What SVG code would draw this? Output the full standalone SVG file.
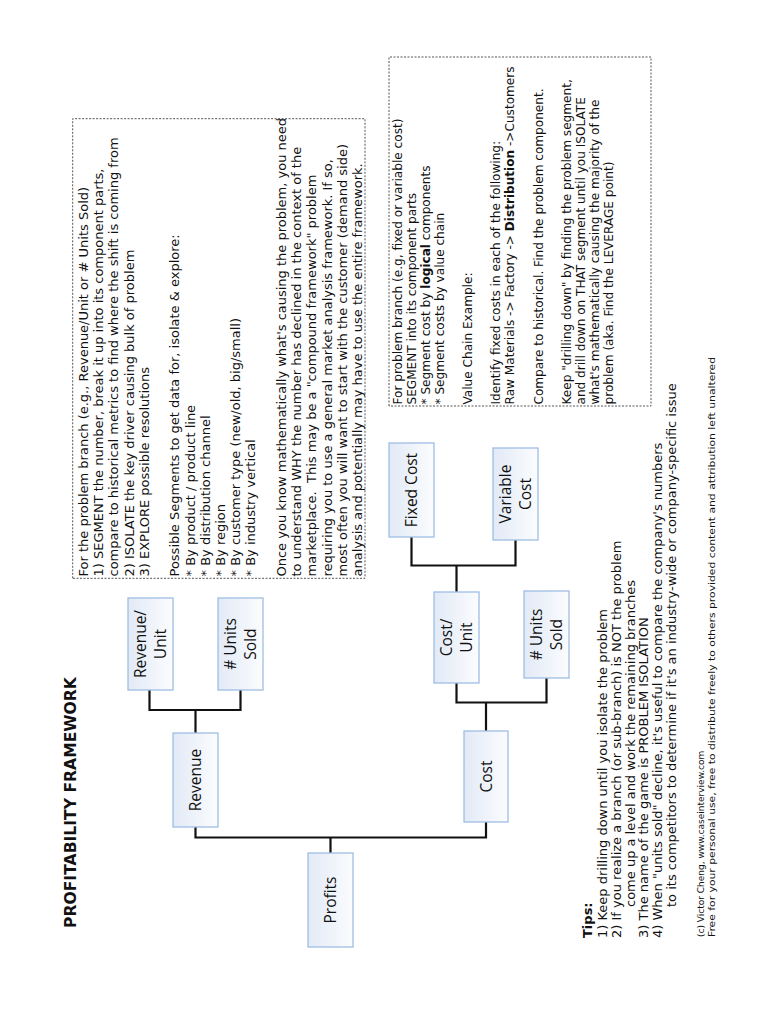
<svg xmlns="http://www.w3.org/2000/svg" width="768" height="1024" viewBox="0 0 768 1024">
<defs>
<linearGradient id="nodeFill" x1="0" y1="0" x2="0" y2="1">
<stop offset="0" stop-color="#e2eaf6"/>
<stop offset="1" stop-color="#fbfcfe"/>
</linearGradient>
<style>
.node rect{fill:url(#nodeFill);stroke:#9fbde4;stroke-width:1.3}
.nl{font-family:"Open Sans","Noto Sans",sans-serif;font-size:15.5px;fill:#111;text-anchor:middle}
.conn path{fill:none;stroke:#111;stroke-width:2.2}
.box{fill:none;stroke:#555;stroke-width:1;stroke-dasharray:2 1.5}
.bt{font-family:"DejaVu Sans",Verdana,sans-serif;font-size:13px;fill:#111}
.rt{font-family:"DejaVu Sans",Verdana,sans-serif;font-size:12.1px;fill:#111}
.cp{font-family:"DejaVu Sans",Verdana,sans-serif;font-size:9px;fill:#111}
.title{font-family:"DejaVu Sans",Verdana,sans-serif;font-size:15.6px;font-weight:bold;fill:#111}
.b{font-weight:bold}
</style>
</defs>
<rect width="768" height="1024" fill="#ffffff"/>
<g transform="translate(0,1024) rotate(-90)">
<text class="title" x="96" y="76">PROFITABILITY FRAMEWORK</text>

<g id="connectors" class="conn">
<path d="M334,149.5 H314 V240.5 H334 M314,195.5 H291"/>
<path d="M341,456.5 H321.5 V546.5 H346 M321.5,486 H293"/>
<path d="M487,411.5 H458.5 V515.5 H484 M458.5,456.5 H432"/>
<path d="M197,195.5 H186.5 V486 H202 M186.5,330.5 H171"/>
</g>

<g id="node-profits" class="node"><rect x="77" y="308" width="94" height="45"/><text class="nl" x="124" y="336">Profits</text></g>
<g id="node-revenue" class="node"><rect x="197" y="173" width="94" height="45"/><text class="nl" x="244" y="201">Revenue</text></g>
<g id="node-revenue-unit" class="node"><rect x="334" y="128" width="92" height="45"/><text class="nl" x="380" y="146">Revenue/</text><text class="nl" x="380" y="166">Unit</text></g>
<g id="node-rev-units-sold" class="node"><rect x="334" y="218" width="92" height="45"/><text class="nl" x="380" y="236"># Units</text><text class="nl" x="380" y="256">Sold</text></g>
<g id="node-cost" class="node"><rect x="202" y="464" width="91" height="44"/><text class="nl" x="247.5" y="491.5">Cost</text></g>
<g id="node-cost-unit" class="node"><rect x="341" y="434" width="91" height="45"/><text class="nl" x="386.5" y="452">Cost/</text><text class="nl" x="386.5" y="472">Unit</text></g>
<g id="node-cost-units-sold" class="node"><rect x="346" y="524" width="87" height="45"/><text class="nl" x="389.5" y="542"># Units</text><text class="nl" x="389.5" y="562">Sold</text></g>
<g id="node-fixed-cost" class="node"><rect x="487" y="389" width="94" height="45"/><text class="nl" x="534" y="417">Fixed Cost</text></g>
<g id="node-variable-cost" class="node"><rect x="484" y="493" width="92" height="45"/><text class="nl" x="530" y="511">Variable</text><text class="nl" x="530" y="531">Cost</text></g>

<g id="note-revenue">
<rect class="box" x="445.7" y="72.7" width="459.6" height="292.3"/>
<text class="bt" x="447.5" y="88">For the problem branch (e.g., Revenue/Unit or # Units Sold)</text>
<text class="bt" x="447.5" y="103.2">1) SEGMENT the number, break it up into its component parts,</text>
<text class="bt" x="447.5" y="118.4">compare to historical metrics to find where the shift is coming from</text>
<text class="bt" x="447.5" y="133.7">2) ISOLATE the key driver causing bulk of problem</text>
<text class="bt" x="447.5" y="148.9">3) EXPLORE possible resolutions</text>
<text class="bt" x="447.5" y="179.3">Possible Segments to get data for, isolate &amp; explore:</text>
<text class="bt" x="447.5" y="194.5">* By product / product line</text>
<text class="bt" x="447.5" y="209.8">* By distribution channel</text>
<text class="bt" x="447.5" y="225">* By region</text>
<text class="bt" x="447.5" y="240.2">* By customer type (new/old, big/small)</text>
<text class="bt" x="447.5" y="255.4">* By industry vertical</text>
<text class="bt" x="447.5" y="285.9">Once you know mathematically what's causing the problem, you need</text>
<text class="bt" x="447.5" y="301.1">to understand WHY the number has declined in the context of the</text>
<text class="bt" x="447.5" y="316.3">marketplace.&#160; This may be a "compound framework" problem</text>
<text class="bt" x="447.5" y="331.5">requiring you to use a general market analysis framework. If so,</text>
<text class="bt" x="447.5" y="346.8">most often you will want to start with the customer (demand side)</text>
<text class="bt" x="447.5" y="362">analysis and potentially may have to use the entire framework.</text>
</g>

<g id="note-cost">
<rect class="box" x="618" y="389" width="349" height="262"/>
<text class="rt" x="619.5" y="401.5">For problem branch (e.g, fixed or variable cost)</text>
<text class="rt" x="619.5" y="415.6">SEGMENT into its component parts</text>
<text class="rt" x="619.5" y="429.7">* Segment cost by <tspan class="b">logical</tspan> components</text>
<text class="rt" x="619.5" y="443.8">* Segment costs by value chain</text>
<text class="rt" x="619.5" y="472">Value Chain Example:</text>
<text class="rt" x="619.5" y="500.2">Identify fixed costs in each of the following:</text>
<text class="rt" x="619.5" y="514.3">Raw Materials -&gt; Factory -&gt; <tspan class="b">Distribution</tspan> -&gt;Customers</text>
<text class="rt" x="619.5" y="542.5">Compare to historical. Find the problem component.</text>
<text class="rt" x="619.5" y="570.7">Keep "drilling down" by finding the problem segment,</text>
<text class="rt" x="619.5" y="584.8">and drill down on THAT segment until you ISOLATE</text>
<text class="rt" x="619.5" y="598.9">what's mathematically causing the majority of the</text>
<text class="rt" x="619.5" y="613">problem (aka. Find the LEVERAGE point)</text>
</g>

<g id="tips">
<text class="bt b" x="86" y="591.5">Tips:</text>
<text class="bt" x="86" y="607">1) Keep drilling down until you isolate the problem</text>
<text class="bt" x="86" y="620.8">2) If you realize a branch (or sub-branch) is NOT the problem</text>
<text class="bt" x="117" y="634.6">come up a level and work the remaining branches</text>
<text class="bt" x="86" y="648.4">3) The name of the game is PROBLEM ISOLATION</text>
<text class="bt" x="86" y="662.2">4) When "units sold" decline, it's useful to compare the company's numbers</text>
<text class="bt" x="117" y="676">to its competitors to determine if it's an industry-wide or company-specific issue</text>
</g>

<g id="credits">
<text class="cp" x="87" y="703.5">(c) Victor Cheng, www.caseinterview.com</text>
<text class="cp" x="87" y="715" textLength="580" lengthAdjust="spacingAndGlyphs">Free for your personal use, free to distribute freely to others provided content and attribution left unaltered</text>
</g>
</g>
</svg>
